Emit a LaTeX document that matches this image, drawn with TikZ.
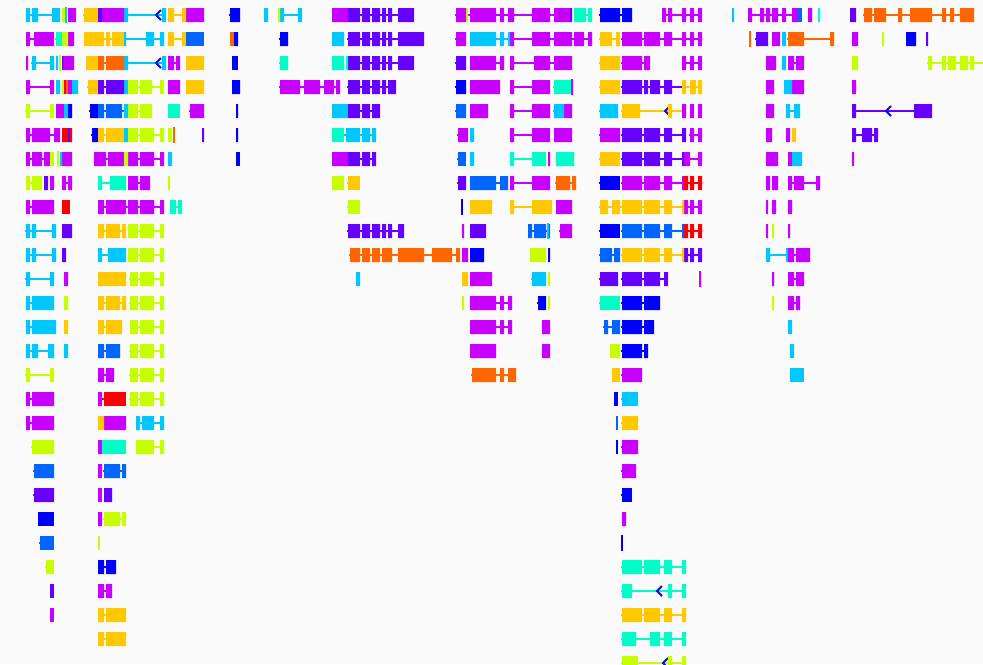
\documentclass[tikz,border=0pt]{standalone}
\usepackage{xcolor}
\definecolor{Paper}{HTML}{FAFAFA}
\definecolor{Mag}{HTML}{C800FF}
\definecolor{Vio}{HTML}{6600FF}
\definecolor{Blu}{HTML}{0000FF}
\definecolor{Azu}{HTML}{0066FF}
\definecolor{Cya}{HTML}{00C8FF}
\definecolor{Aqu}{HTML}{00FFC8}
\definecolor{Lim}{HTML}{C8FF00}
\definecolor{Gol}{HTML}{FFC800}
\definecolor{Ora}{HTML}{FF6600}
\definecolor{Red}{HTML}{FF0000}
\definecolor{Chev}{HTML}{0A0AE6}
\begin{document}
\begin{tikzpicture}[x=0.03cm,y=-0.03cm,intr/.style={line width=1.7pt},chev/.style={draw=Chev,line width=1.6pt}]
\fill[Paper] (0,0) rectangle (983,664);
\useasboundingbox (0,0) rectangle (983,664);
\clip (0,0) rectangle (983,664);
\begin{scope}[shift={(0,0)}]
\draw[intr,Cya] (26,15) -- (60,15) (128,15) -- (162,15) (284,15) -- (298,15);
\draw[intr,Gol] (83,15) -- (84,15) (174,15) -- (182,15);
\draw[intr,Blu] (229,15) -- (230,15) (599,15) -- (632,15);
\draw[intr,Vio] (347,15) -- (414,15);
\draw[intr,Mag] (455,15) -- (572,15) (662,15) -- (702,15) (748,15) -- (798,15);
\draw[intr,Aqu] (586,15) -- (588,15);
\draw[intr,Ora] (863,15) -- (974,15);
\fill[Cya] (26,8) rectangle (30,22) (32,8) rectangle (38,22) (52,8) rectangle (60,22) (65,7) rectangle (67,23) (124,8) rectangle (128,22) (162,8) rectangle (166,22) (264,8) rectangle (268,22) (280,8) rectangle (284,22) (298,8) rectangle (302,22) (732,8) rectangle (734,22);
\fill[Lim] (62,8) rectangle (65,22) (278,8) rectangle (280,22) (466,8) rectangle (468,22);
\fill[Mag] (68,8) rectangle (76,22) (102,8) rectangle (124,22) (186,8) rectangle (204,22) (332,8) rectangle (348,22) (456,8) rectangle (466,22) (470,8) rectangle (496,22) (500,8) rectangle (504,22) (508,8) rectangle (514,22) (532,8) rectangle (550,22) (554,8) rectangle (570,22) (662,8) rectangle (666,22) (668,8) rectangle (672,22) (682,8) rectangle (686,22) (690,8) rectangle (694,22) (698,8) rectangle (702,22) (748,8) rectangle (752,22) (760,8) rectangle (764,22) (766,8) rectangle (770,22) (772,8) rectangle (778,22) (782,8) rectangle (786,22) (792,8) rectangle (798,22) (808,8) rectangle (812,22);
\fill[Gol] (84,8) rectangle (98,22) (168,8) rectangle (174,22) (182,8) rectangle (186,22);
\fill[Vio] (98,8) rectangle (102,22) (348,8) rectangle (360,22) (362,8) rectangle (370,22) (372,8) rectangle (380,22) (382,8) rectangle (386,22) (388,8) rectangle (392,22) (398,8) rectangle (414,22) (570,8) rectangle (572,22) (850,8) rectangle (856,22);
\fill[Blu] (230,8) rectangle (240,22) (600,8) rectangle (620,22) (622,8) rectangle (632,22);
\fill[Aqu] (574,8) rectangle (586,22) (588,8) rectangle (592,22) (818,8) rectangle (820,22);
\fill[Azu] (798,8) rectangle (802,22);
\fill[Ora] (864,8) rectangle (872,22) (874,8) rectangle (886,22) (898,8) rectangle (902,22) (910,8) rectangle (932,22) (942,8) rectangle (946,22) (950,8) rectangle (954,22) (960,8) rectangle (974,22);
\draw[chev] (161,10) -- (156,15) -- (161,20);
\end{scope}
\begin{scope}[shift={(0,24)}]
\draw[intr,Mag] (26,15) -- (54,15) (455,15) -- (456,15) (514,15) -- (592,15) (621,15) -- (702,15);
\draw[intr,Aqu] (55,15) -- (56,15);
\draw[intr,Gol] (84,15) -- (124,15) (168,15) -- (186,15) (599,15) -- (620,15);
\draw[intr,Cya] (124,15) -- (164,15) (496,15) -- (508,15);
\draw[intr,Blu] (279,15) -- (280,15);
\draw[intr,Vio] (347,15) -- (424,15) (755,15) -- (768,15);
\draw[intr,Ora] (787,15) -- (834,15);
\fill[Mag] (26,8) rectangle (30,22) (34,8) rectangle (54,22) (68,8) rectangle (74,22) (456,8) rectangle (466,22) (510,8) rectangle (514,22) (532,8) rectangle (550,22) (554,8) rectangle (572,22) (574,8) rectangle (584,22) (588,8) rectangle (592,22) (622,8) rectangle (642,22) (644,8) rectangle (660,22) (664,8) rectangle (672,22) (682,8) rectangle (686,22) (690,8) rectangle (694,22) (698,8) rectangle (702,22) (772,8) rectangle (780,22) (852,8) rectangle (858,22);
\fill[Aqu] (56,8) rectangle (62,22);
\fill[Lim] (62,8) rectangle (68,22) (882,8) rectangle (884,22);
\fill[Gol] (84,8) rectangle (104,22) (106,8) rectangle (110,22) (112,8) rectangle (124,22) (168,8) rectangle (174,22) (182,8) rectangle (186,22) (600,8) rectangle (612,22) (616,8) rectangle (620,22);
\fill[Cya] (124,8) rectangle (126,22) (146,8) rectangle (154,22) (160,8) rectangle (164,22) (332,8) rectangle (344,22) (470,8) rectangle (496,22) (500,8) rectangle (504,22) (508,8) rectangle (510,22) (782,8) rectangle (786,22);
\fill[Azu] (186,8) rectangle (204,22);
\fill[Ora] (230,8) rectangle (234,22) (788,8) rectangle (804,22) (830,8) rectangle (834,22) (749,7) rectangle (751,23);
\fill[Blu] (234,8) rectangle (238,22) (280,8) rectangle (288,22) (906,8) rectangle (916,22);
\fill[Vio] (348,8) rectangle (360,22) (362,8) rectangle (370,22) (372,8) rectangle (380,22) (382,8) rectangle (386,22) (388,8) rectangle (392,22) (398,8) rectangle (424,22) (756,8) rectangle (768,22) (926,8) rectangle (928,22);
\end{scope}
\begin{scope}[shift={(0,48)}]
\draw[intr,Cya] (31,15) -- (54,15) (128,15) -- (162,15);
\draw[intr,Ora] (98,15) -- (128,15);
\draw[intr,Mag] (168,15) -- (180,15) (470,15) -- (504,15) (510,15) -- (572,15) (621,15) -- (650,15) (682,15) -- (702,15) (788,15) -- (804,15);
\draw[intr,Aqu] (279,15) -- (280,15);
\draw[intr,Vio] (347,15) -- (414,15) (455,15) -- (456,15);
\draw[intr,Gol] (599,15) -- (620,15);
\draw[intr,Lim] (927,15) -- (983,15);
\fill[Mag] (26,8) rectangle (28,22) (63,8) rectangle (74,22) (168,8) rectangle (174,22) (176,8) rectangle (180,22) (470,8) rectangle (496,22) (500,8) rectangle (504,22) (510,8) rectangle (514,22) (534,8) rectangle (550,22) (554,8) rectangle (572,22) (622,8) rectangle (642,22) (644,8) rectangle (650,22) (682,8) rectangle (686,22) (690,8) rectangle (694,22) (698,8) rectangle (702,22) (766,8) rectangle (776,22) (788,8) rectangle (794,22) (796,8) rectangle (804,22);
\fill[Cya] (32,8) rectangle (36,22) (50,8) rectangle (54,22) (56,8) rectangle (58,22) (124,8) rectangle (128,22) (162,8) rectangle (166,22) (782,8) rectangle (786,22);
\fill[Lim] (59,7) rectangle (61,23) (852,8) rectangle (858,22) (928,8) rectangle (932,22) (942,8) rectangle (946,22) (948,8) rectangle (956,22) (960,8) rectangle (968,22) (970,8) rectangle (974,22);
\fill[Vio] (62,8) rectangle (63,22) (348,8) rectangle (360,22) (362,8) rectangle (370,22) (372,8) rectangle (380,22) (382,8) rectangle (386,22) (388,8) rectangle (392,22) (398,8) rectangle (414,22) (456,8) rectangle (466,22);
\fill[Gol] (86,8) rectangle (98,22) (186,8) rectangle (204,22) (600,8) rectangle (620,22);
\fill[Ora] (98,8) rectangle (104,22) (106,8) rectangle (124,22);
\fill[Blu] (232,8) rectangle (238,22);
\fill[Aqu] (280,8) rectangle (288,22) (332,8) rectangle (344,22) (346,8) rectangle (348,22);
\draw[chev] (161,10) -- (156,15) -- (161,20);
\end{scope}
\begin{scope}[shift={(0,72)}]
\draw[intr,Mag] (26,15) -- (54,15) (279,15) -- (340,15) (510,15) -- (550,15);
\draw[intr,Gol] (87,15) -- (88,15) (599,15) -- (600,15) (682,15) -- (702,15);
\draw[intr,Vio] (98,15) -- (128,15) (347,15) -- (396,15) (621,15) -- (682,15);
\draw[intr,Lim] (128,15) -- (164,15);
\draw[intr,Blu] (455,15) -- (456,15);
\draw[intr,Aqu] (553,15) -- (554,15);
\fill[Mag] (26,8) rectangle (30,22) (50,8) rectangle (54,22) (68,8) rectangle (72,22) (168,8) rectangle (180,22) (280,8) rectangle (300,22) (304,8) rectangle (320,22) (324,8) rectangle (334,22) (336,8) rectangle (340,22) (470,8) rectangle (500,22) (510,8) rectangle (514,22) (532,8) rectangle (550,22) (571,7) rectangle (573,23) (766,8) rectangle (774,22) (792,8) rectangle (804,22) (852,8) rectangle (856,22);
\fill[Cya] (56,8) rectangle (60,22) (72,8) rectangle (78,22) (124,8) rectangle (128,22) (784,8) rectangle (792,22);
\fill[Lim] (62,8) rectangle (64,22) (128,8) rectangle (138,22) (140,8) rectangle (152,22) (160,8) rectangle (164,22);
\fill[Red] (64,8) rectangle (66,22);
\fill[Ora] (66,8) rectangle (68,22);
\fill[Gol] (88,8) rectangle (98,22) (186,8) rectangle (204,22) (600,8) rectangle (620,22) (682,8) rectangle (686,22) (690,8) rectangle (696,22) (698,8) rectangle (702,22);
\fill[Vio] (98,8) rectangle (104,22) (106,8) rectangle (124,22) (348,8) rectangle (360,22) (362,8) rectangle (370,22) (372,8) rectangle (380,22) (382,8) rectangle (386,22) (388,8) rectangle (396,22) (622,8) rectangle (642,22) (644,8) rectangle (648,22) (650,8) rectangle (660,22) (664,8) rectangle (672,22);
\fill[Blu] (232,8) rectangle (240,22) (456,8) rectangle (466,22);
\fill[Aqu] (554,8) rectangle (571,22);
\end{scope}
\begin{scope}[shift={(0,96)}]
\draw[intr,Lim] (25,15) -- (54,15) (128,15) -- (152,15);
\draw[intr,Blu] (89,15) -- (90,15);
\draw[intr,Azu] (98,15) -- (124,15) (455,15) -- (456,15);
\draw[intr,Vio] (347,15) -- (380,15) (852,15) -- (932,15);
\draw[intr,Mag] (189,15) -- (190,15) (510,15) -- (550,15);
\draw[intr,Cya] (553,15) -- (554,15) (599,15) -- (600,15) (786,15) -- (800,15);
\draw[intr,Gol] (621,15) -- (682,15);
\draw[chev] (670,10) -- (665,15) -- (670,20);
\draw[chev] (891,10) -- (886,15) -- (891,20);
\fill[Lim] (26,8) rectangle (30,22) (50,8) rectangle (54,22) (128,8) rectangle (138,22) (140,8) rectangle (152,22);
\fill[Mag] (56,8) rectangle (64,22) (190,8) rectangle (204,22) (470,8) rectangle (488,22) (510,8) rectangle (514,22) (532,8) rectangle (550,22) (564,8) rectangle (572,22) (682,8) rectangle (686,22) (690,8) rectangle (694,22) (698,8) rectangle (702,22) (766,8) rectangle (774,22);
\fill[Cya] (64,8) rectangle (68,22) (124,8) rectangle (128,22) (332,8) rectangle (348,22) (554,8) rectangle (564,22) (600,8) rectangle (618,22) (786,8) rectangle (790,22) (794,8) rectangle (800,22);
\fill[Blu] (68,8) rectangle (72,22) (90,8) rectangle (98,22) (236,8) rectangle (238,22);
\fill[Azu] (98,8) rectangle (104,22) (106,8) rectangle (122,22) (456,8) rectangle (466,22);
\fill[Aqu] (168,8) rectangle (180,22);
\fill[Vio] (348,8) rectangle (360,22) (362,8) rectangle (370,22) (372,8) rectangle (380,22) (852,8) rectangle (856,22) (914,8) rectangle (932,22);
\fill[Gol] (622,8) rectangle (640,22) (668,8) rectangle (672,22);
\end{scope}
\begin{scope}[shift={(0,120)}]
\draw[intr,Mag] (26,15) -- (60,15) (457,15) -- (458,15) (510,15) -- (550,15) (599,15) -- (600,15) (689,15) -- (702,15);
\draw[intr,Blu] (91,15) -- (92,15);
\draw[intr,Gol] (98,15) -- (128,15);
\draw[intr,Lim] (128,15) -- (164,15);
\draw[intr,Cya] (344,15) -- (376,15);
\draw[intr,Vio] (621,15) -- (686,15) (852,15) -- (878,15);
\fill[Mag] (26,8) rectangle (30,22) (32,8) rectangle (50,22) (54,8) rectangle (60,22) (458,8) rectangle (468,22) (510,8) rectangle (514,22) (532,8) rectangle (550,22) (554,8) rectangle (572,22) (600,8) rectangle (620,22) (690,8) rectangle (694,22) (698,8) rectangle (702,22) (766,8) rectangle (772,22) (786,8) rectangle (790,22);
\fill[Red] (62,8) rectangle (68,22) (70,8) rectangle (72,22);
\fill[Vio] (68,8) rectangle (70,22) (202,8) rectangle (204,22) (622,8) rectangle (642,22) (644,8) rectangle (660,22) (664,8) rectangle (672,22) (682,8) rectangle (686,22) (852,8) rectangle (856,22) (862,8) rectangle (872,22) (874,8) rectangle (878,22);
\fill[Blu] (92,8) rectangle (98,22) (236,8) rectangle (238,22);
\fill[Gol] (98,8) rectangle (104,22) (106,8) rectangle (124,22) (792,8) rectangle (796,22);
\fill[Cya] (124,8) rectangle (128,22) (346,8) rectangle (360,22) (362,8) rectangle (370,22) (372,8) rectangle (376,22) (470,8) rectangle (474,22);
\fill[Lim] (128,8) rectangle (138,22) (140,8) rectangle (154,22) (160,8) rectangle (164,22) (168,8) rectangle (172,22);
\fill[Ora] (173,7) rectangle (175,23);
\fill[Aqu] (332,8) rectangle (344,22);
\end{scope}
\begin{scope}[shift={(0,144)}]
\draw[intr,Mag] (26,15) -- (50,15) (94,15) -- (164,15) (690,15) -- (702,15);
\draw[intr,Vio] (347,15) -- (376,15) (621,15) -- (690,15);
\draw[intr,Azu] (457,15) -- (458,15);
\draw[intr,Aqu] (510,15) -- (546,15);
\draw[intr,Gol] (599,15) -- (600,15);
\fill[Mag] (26,8) rectangle (30,22) (32,8) rectangle (42,22) (44,8) rectangle (50,22) (62,8) rectangle (72,22) (94,8) rectangle (106,22) (108,8) rectangle (124,22) (128,8) rectangle (138,22) (140,8) rectangle (154,22) (160,8) rectangle (164,22) (332,8) rectangle (348,22) (548,8) rectangle (550,22) (684,8) rectangle (690,22) (698,8) rectangle (702,22) (766,8) rectangle (778,22) (788,8) rectangle (792,22) (852,8) rectangle (854,22);
\fill[Lim] (50,8) rectangle (54,22) (57,7) rectangle (59,23) (124,8) rectangle (128,22);
\fill[Cya] (60,8) rectangle (62,22) (168,8) rectangle (172,22) (470,8) rectangle (474,22) (792,8) rectangle (802,22);
\fill[Blu] (236,8) rectangle (240,22);
\fill[Vio] (348,8) rectangle (360,22) (362,8) rectangle (370,22) (372,8) rectangle (376,22) (622,8) rectangle (642,22) (644,8) rectangle (660,22) (664,8) rectangle (672,22) (682,8) rectangle (684,22);
\fill[Azu] (458,8) rectangle (466,22);
\fill[Aqu] (510,8) rectangle (514,22) (532,8) rectangle (546,22) (556,8) rectangle (574,22);
\fill[Gol] (600,8) rectangle (620,22);
\end{scope}
\begin{scope}[shift={(0,168)}]
\draw[intr,Lim] (26,15) -- (42,15);
\draw[intr,Mag] (62,15) -- (72,15) (128,15) -- (150,15) (510,15) -- (550,15) (621,15) -- (684,15) (788,15) -- (820,15);
\draw[intr,Aqu] (98,15) -- (126,15);
\draw[intr,Gol] (347,15) -- (348,15);
\draw[intr,Vio] (457,15) -- (458,15);
\draw[intr,Azu] (470,15) -- (508,15);
\draw[intr,Ora] (555,15) -- (576,15);
\draw[intr,Blu] (599,15) -- (600,15);
\draw[intr,Red] (684,15) -- (702,15);
\fill[Lim] (26,8) rectangle (30,22) (32,8) rectangle (42,22) (168,8) rectangle (170,22) (332,8) rectangle (344,22);
\fill[Vio] (44,8) rectangle (48,22) (458,8) rectangle (466,22);
\fill[Mag] (50,8) rectangle (54,22) (62,8) rectangle (66,22) (68,8) rectangle (72,22) (128,8) rectangle (138,22) (140,8) rectangle (150,22) (510,8) rectangle (514,22) (532,8) rectangle (550,22) (622,8) rectangle (642,22) (644,8) rectangle (660,22) (664,8) rectangle (672,22) (682,8) rectangle (684,22) (766,8) rectangle (770,22) (772,8) rectangle (778,22) (788,8) rectangle (792,22) (794,8) rectangle (804,22) (816,8) rectangle (820,22);
\fill[Aqu] (98,8) rectangle (102,22) (110,8) rectangle (126,22);
\fill[Gol] (348,8) rectangle (360,22);
\fill[Azu] (470,8) rectangle (496,22) (500,8) rectangle (508,22);
\fill[Ora] (556,8) rectangle (570,22) (572,8) rectangle (576,22);
\fill[Blu] (600,8) rectangle (620,22);
\fill[Red] (684,8) rectangle (688,22) (690,8) rectangle (694,22) (698,8) rectangle (702,22);
\end{scope}
\begin{scope}[shift={(0,192)}]
\draw[intr,Mag] (26,15) -- (54,15) (98,15) -- (164,15) (684,15) -- (702,15);
\draw[intr,Aqu] (170,15) -- (182,15);
\draw[intr,Lim] (347,15) -- (348,15);
\draw[intr,Gol] (510,15) -- (552,15) (599,15) -- (684,15);
\fill[Mag] (26,8) rectangle (30,22) (32,8) rectangle (54,22) (98,8) rectangle (104,22) (106,8) rectangle (126,22) (128,8) rectangle (138,22) (140,8) rectangle (154,22) (160,8) rectangle (164,22) (556,8) rectangle (572,22) (684,8) rectangle (688,22) (690,8) rectangle (694,22) (698,8) rectangle (702,22) (766,8) rectangle (768,22) (772,8) rectangle (776,22) (788,8) rectangle (792,22);
\fill[Red] (62,8) rectangle (70,22);
\fill[Aqu] (170,8) rectangle (176,22) (178,8) rectangle (182,22);
\fill[Lim] (348,8) rectangle (360,22);
\fill[Blu] (461,7) rectangle (463,23);
\fill[Gol] (470,8) rectangle (492,22) (510,8) rectangle (514,22) (532,8) rectangle (552,22) (600,8) rectangle (608,22) (612,8) rectangle (620,22) (622,8) rectangle (642,22) (644,8) rectangle (660,22) (664,8) rectangle (672,22) (682,8) rectangle (684,22);
\end{scope}
\begin{scope}[shift={(0,216)}]
\draw[intr,Cya] (25,15) -- (56,15);
\draw[intr,Gol] (98,15) -- (126,15);
\draw[intr,Lim] (128,15) -- (164,15);
\draw[intr,Vio] (347,15) -- (404,15);
\draw[intr,Azu] (528,15) -- (550,15) (621,15) -- (684,15);
\draw[intr,Mag] (559,15) -- (560,15);
\draw[intr,Blu] (599,15) -- (600,15);
\draw[intr,Red] (684,15) -- (702,15);
\fill[Cya] (26,8) rectangle (30,22) (32,8) rectangle (36,22) (52,8) rectangle (56,22);
\fill[Vio] (62,8) rectangle (72,22) (348,8) rectangle (360,22) (362,8) rectangle (370,22) (372,8) rectangle (380,22) (382,8) rectangle (386,22) (388,8) rectangle (392,22) (398,8) rectangle (404,22) (470,8) rectangle (486,22);
\fill[Gol] (98,8) rectangle (104,22) (106,8) rectangle (120,22) (122,8) rectangle (126,22);
\fill[Lim] (128,8) rectangle (138,22) (140,8) rectangle (154,22) (160,8) rectangle (164,22) (772,8) rectangle (774,22);
\fill[Mag] (462,8) rectangle (464,22) (560,8) rectangle (572,22) (766,8) rectangle (768,22) (788,8) rectangle (790,22);
\fill[Azu] (528,8) rectangle (532,22) (534,8) rectangle (546,22) (549,8) rectangle (550,22) (622,8) rectangle (642,22) (644,8) rectangle (660,22) (664,8) rectangle (672,22) (682,8) rectangle (684,22);
\fill[Cya] (547,7) rectangle (549,23);
\fill[Blu] (600,8) rectangle (620,22);
\fill[Red] (684,8) rectangle (688,22) (690,8) rectangle (694,22) (698,8) rectangle (702,22);
\end{scope}
\begin{scope}[shift={(0,240)}]
\draw[intr,Cya] (26,15) -- (56,15) (98,15) -- (126,15) (766,15) -- (788,15);
\draw[intr,Lim] (128,15) -- (164,15);
\draw[intr,Ora] (349,15) -- (460,15);
\draw[intr,Azu] (599,15) -- (620,15);
\draw[intr,Gol] (621,15) -- (684,15);
\draw[intr,Vio] (684,15) -- (702,15);
\draw[intr,Mag] (788,15) -- (810,15);
\fill[Cya] (26,8) rectangle (30,22) (32,8) rectangle (36,22) (52,8) rectangle (56,22) (98,8) rectangle (102,22) (108,8) rectangle (126,22) (766,8) rectangle (770,22) (786,8) rectangle (788,22);
\fill[Vio] (62,8) rectangle (66,22) (684,8) rectangle (688,22) (690,8) rectangle (694,22) (698,8) rectangle (702,22);
\fill[Lim] (128,8) rectangle (138,22) (140,8) rectangle (154,22) (160,8) rectangle (164,22) (530,8) rectangle (546,22);
\fill[Ora] (350,8) rectangle (360,22) (362,8) rectangle (370,22) (372,8) rectangle (380,22) (382,8) rectangle (392,22) (398,8) rectangle (424,22) (432,8) rectangle (452,22) (456,8) rectangle (460,22);
\fill[Mag] (462,8) rectangle (468,22) (788,8) rectangle (794,22) (796,8) rectangle (810,22);
\fill[Blu] (470,8) rectangle (484,22) (548,8) rectangle (550,22);
\fill[Azu] (600,8) rectangle (612,22) (614,8) rectangle (620,22);
\fill[Gol] (622,8) rectangle (642,22) (644,8) rectangle (660,22) (664,8) rectangle (672,22) (682,8) rectangle (684,22);
\end{scope}
\begin{scope}[shift={(0,264)}]
\draw[intr,Cya] (25,15) -- (54,15) (531,15) -- (532,15);
\draw[intr,Lim] (129,15) -- (164,15);
\draw[intr,Vio] (599,15) -- (600,15) (621,15) -- (668,15);
\draw[intr,Mag] (788,15) -- (804,15);
\fill[Cya] (26,8) rectangle (30,22) (50,8) rectangle (54,22) (356,8) rectangle (360,22) (532,8) rectangle (546,22);
\fill[Mag] (64,8) rectangle (68,22) (470,8) rectangle (492,22) (699,7) rectangle (701,23) (772,8) rectangle (774,22) (788,8) rectangle (794,22) (796,8) rectangle (804,22);
\fill[Gol] (98,8) rectangle (126,22) (462,8) rectangle (468,22);
\fill[Lim] (130,8) rectangle (138,22) (140,8) rectangle (154,22) (160,8) rectangle (164,22) (548,8) rectangle (550,22);
\fill[Vio] (600,8) rectangle (618,22) (622,8) rectangle (642,22) (644,8) rectangle (660,22) (664,8) rectangle (668,22);
\end{scope}
\begin{scope}[shift={(0,288)}]
\draw[intr,Cya] (26,15) -- (54,15);
\draw[intr,Gol] (98,15) -- (126,15);
\draw[intr,Lim] (129,15) -- (164,15);
\draw[intr,Mag] (470,15) -- (512,15) (788,15) -- (800,15);
\draw[intr,Blu] (537,15) -- (538,15) (621,15) -- (660,15);
\draw[intr,Aqu] (599,15) -- (600,15);
\fill[Cya] (26,8) rectangle (30,22) (32,8) rectangle (54,22);
\fill[Lim] (64,8) rectangle (68,22) (130,8) rectangle (138,22) (140,8) rectangle (154,22) (160,8) rectangle (164,22) (462,8) rectangle (464,22) (548,8) rectangle (550,22) (772,8) rectangle (774,22);
\fill[Gol] (98,8) rectangle (104,22) (106,8) rectangle (120,22) (122,8) rectangle (126,22);
\fill[Mag] (470,8) rectangle (496,22) (500,8) rectangle (504,22) (508,8) rectangle (512,22) (788,8) rectangle (794,22) (796,8) rectangle (800,22);
\fill[Blu] (538,8) rectangle (546,22) (622,8) rectangle (642,22) (644,8) rectangle (660,22);
\fill[Aqu] (600,8) rectangle (620,22);
\end{scope}
\begin{scope}[shift={(0,312)}]
\draw[intr,Cya] (26,15) -- (56,15);
\draw[intr,Gol] (98,15) -- (122,15);
\draw[intr,Lim] (130,15) -- (164,15);
\draw[intr,Mag] (470,15) -- (512,15);
\draw[intr,Azu] (603,15) -- (620,15);
\draw[intr,Blu] (621,15) -- (654,15);
\fill[Cya] (26,8) rectangle (30,22) (32,8) rectangle (56,22) (788,8) rectangle (792,22);
\fill[Gol] (64,8) rectangle (68,22) (98,8) rectangle (104,22) (106,8) rectangle (122,22);
\fill[Lim] (130,8) rectangle (138,22) (140,8) rectangle (154,22) (160,8) rectangle (164,22);
\fill[Mag] (470,8) rectangle (496,22) (500,8) rectangle (504,22) (508,8) rectangle (512,22) (542,8) rectangle (550,22);
\fill[Azu] (604,8) rectangle (608,22) (612,8) rectangle (620,22);
\fill[Blu] (622,8) rectangle (642,22) (644,8) rectangle (654,22);
\end{scope}
\begin{scope}[shift={(0,336)}]
\draw[intr,Cya] (26,15) -- (54,15);
\draw[intr,Azu] (98,15) -- (120,15);
\draw[intr,Lim] (129,15) -- (164,15);
\draw[intr,Blu] (621,15) -- (648,15);
\fill[Cya] (26,8) rectangle (30,22) (32,8) rectangle (38,22) (48,8) rectangle (54,22) (64,8) rectangle (68,22) (790,8) rectangle (794,22);
\fill[Azu] (98,8) rectangle (104,22) (106,8) rectangle (120,22);
\fill[Lim] (130,8) rectangle (138,22) (140,8) rectangle (154,22) (160,8) rectangle (164,22) (610,8) rectangle (620,22);
\fill[Mag] (470,8) rectangle (496,22) (542,8) rectangle (550,22);
\fill[Blu] (622,8) rectangle (642,22) (644,8) rectangle (648,22);
\end{scope}
\begin{scope}[shift={(0,360)}]
\draw[intr,Lim] (25,15) -- (54,15) (129,15) -- (164,15);
\draw[intr,Mag] (98,15) -- (114,15) (621,15) -- (622,15);
\draw[intr,Ora] (471,15) -- (516,15);
\fill[Lim] (26,8) rectangle (30,22) (50,8) rectangle (54,22) (130,8) rectangle (138,22) (140,8) rectangle (154,22) (160,8) rectangle (164,22);
\fill[Mag] (98,8) rectangle (104,22) (106,8) rectangle (114,22) (622,8) rectangle (642,22);
\fill[Ora] (472,8) rectangle (496,22) (500,8) rectangle (504,22) (508,8) rectangle (516,22);
\fill[Gol] (612,8) rectangle (620,22);
\fill[Cya] (790,8) rectangle (804,22);
\end{scope}
\begin{scope}[shift={(0,384)}]
\draw[intr,Mag] (26,15) -- (54,15);
\draw[intr,Red] (102,15) -- (104,15);
\draw[intr,Lim] (129,15) -- (164,15);
\draw[intr,Cya] (621,15) -- (622,15);
\fill[Mag] (26,8) rectangle (30,22) (32,8) rectangle (54,22) (98,8) rectangle (102,22);
\fill[Red] (104,8) rectangle (126,22);
\fill[Lim] (130,8) rectangle (138,22) (140,8) rectangle (154,22) (160,8) rectangle (164,22);
\fill[Blu] (614,8) rectangle (618,22);
\fill[Cya] (622,8) rectangle (638,22);
\end{scope}
\begin{scope}[shift={(0,408)}]
\draw[intr,Mag] (26,15) -- (54,15);
\draw[intr,Cya] (136,15) -- (164,15);
\draw[intr,Gol] (621,15) -- (622,15);
\fill[Mag] (26,8) rectangle (30,22) (32,8) rectangle (54,22) (104,8) rectangle (126,22);
\fill[Gol] (98,8) rectangle (104,22) (622,8) rectangle (638,22);
\fill[Cya] (136,8) rectangle (140,22) (142,8) rectangle (154,22) (160,8) rectangle (164,22);
\fill[Azu] (616,8) rectangle (618,22);
\end{scope}
\begin{scope}[shift={(0,432)}]
\draw[intr,Lim] (31,15) -- (32,15) (136,15) -- (164,15);
\draw[intr,Mag] (621,15) -- (622,15);
\fill[Lim] (32,8) rectangle (54,22) (136,8) rectangle (154,22) (160,8) rectangle (164,22);
\fill[Mag] (98,8) rectangle (102,22) (622,8) rectangle (638,22);
\fill[Aqu] (102,8) rectangle (126,22);
\fill[Blu] (616,8) rectangle (618,22);
\end{scope}
\begin{scope}[shift={(0,456)}]
\draw[intr,Azu] (33,15) -- (34,15) (103,15) -- (126,15);
\draw[intr,Mag] (621,15) -- (622,15);
\fill[Azu] (34,8) rectangle (54,22) (104,8) rectangle (120,22) (122,8) rectangle (126,22);
\fill[Mag] (98,8) rectangle (102,22) (622,8) rectangle (636,22);
\end{scope}
\begin{scope}[shift={(0,480)}]
\draw[intr,Vio] (33,15) -- (34,15);
\draw[intr,Blu] (621,15) -- (622,15);
\fill[Vio] (34,8) rectangle (54,22) (104,8) rectangle (112,22);
\fill[Mag] (98,8) rectangle (102,22);
\fill[Blu] (622,8) rectangle (632,22);
\end{scope}
\begin{scope}[shift={(0,504)}]
\draw[intr,Lim] (103,15) -- (126,15);
\fill[Blu] (38,8) rectangle (54,22);
\fill[Mag] (98,8) rectangle (102,22) (622,8) rectangle (626,22);
\fill[Lim] (104,8) rectangle (120,22) (122,8) rectangle (126,22);
\end{scope}
\begin{scope}[shift={(0,528)}]
\draw[intr,Azu] (39,15) -- (40,15);
\fill[Azu] (40,8) rectangle (54,22);
\fill[Lim] (98,8) rectangle (100,22);
\fill[Blu] (621,7) rectangle (623,23);
\end{scope}
\begin{scope}[shift={(0,552)}]
\draw[intr,Lim] (45,15) -- (46,15);
\draw[intr,Blu] (98,15) -- (116,15);
\draw[intr,Aqu] (621,15) -- (686,15);
\fill[Lim] (46,8) rectangle (54,22);
\fill[Blu] (98,8) rectangle (104,22) (106,8) rectangle (116,22);
\fill[Aqu] (622,8) rectangle (642,22) (644,8) rectangle (660,22) (664,8) rectangle (672,22) (682,8) rectangle (686,22);
\end{scope}
\begin{scope}[shift={(0,576)}]
\draw[intr,Mag] (98,15) -- (112,15);
\draw[intr,Aqu] (621,15) -- (686,15);
\fill[Vio] (50,8) rectangle (54,22);
\fill[Mag] (98,8) rectangle (104,22) (106,8) rectangle (112,22);
\fill[Aqu] (622,8) rectangle (632,22) (668,8) rectangle (672,22) (682,8) rectangle (686,22);
\draw[chev] (662,10) -- (657,15) -- (662,20);
\end{scope}
\begin{scope}[shift={(0,600)}]
\draw[intr,Gol] (98,15) -- (126,15) (621,15) -- (686,15);
\fill[Mag] (50,8) rectangle (54,22);
\fill[Gol] (98,8) rectangle (104,22) (106,8) rectangle (126,22) (622,8) rectangle (642,22) (644,8) rectangle (660,22) (664,8) rectangle (672,22) (682,8) rectangle (686,22);
\end{scope}
\begin{scope}[shift={(0,624)}]
\draw[intr,Gol] (98,15) -- (126,15);
\draw[intr,Aqu] (621,15) -- (686,15);
\fill[Gol] (98,8) rectangle (104,22) (106,8) rectangle (126,22);
\fill[Aqu] (622,8) rectangle (636,22) (650,8) rectangle (660,22) (664,8) rectangle (672,22) (682,8) rectangle (686,22);
\end{scope}
\begin{scope}[shift={(0,648)}]
\draw[intr,Lim] (621,15) -- (686,15);
\draw[chev] (668,10) -- (663,15) -- (668,20);
\fill[Lim] (622,8) rectangle (638,22) (668,8) rectangle (672,22) (682,8) rectangle (686,22);
\end{scope}
\end{tikzpicture}
\end{document}
